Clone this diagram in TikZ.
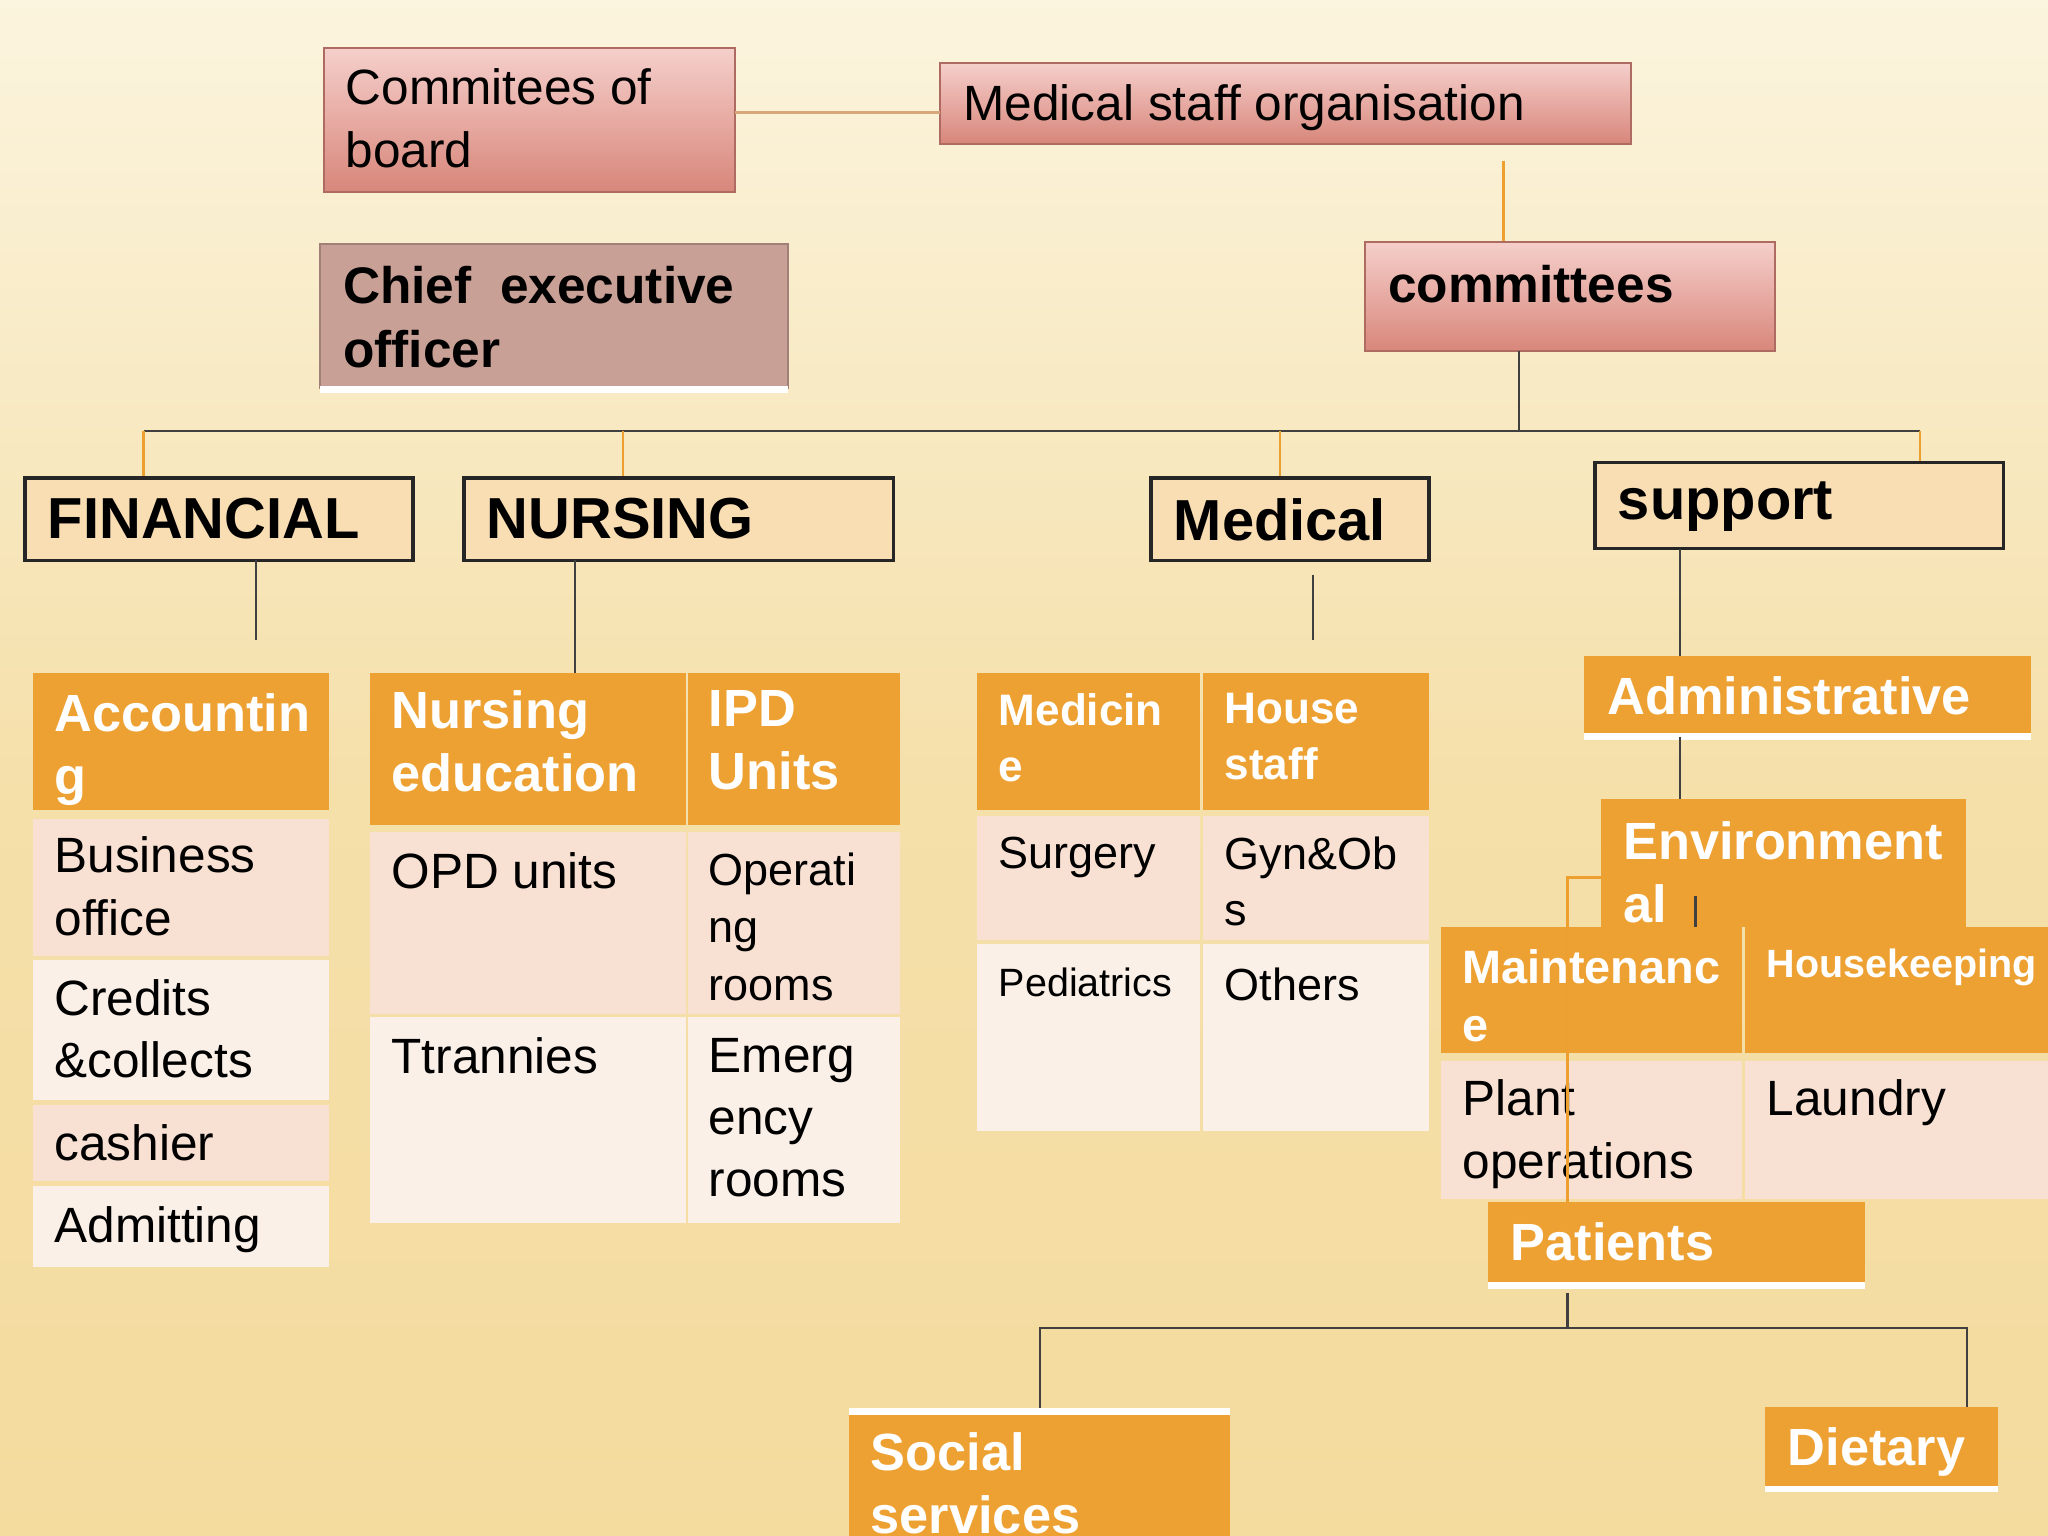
\documentclass[tikz,border=0pt]{standalone}
\usepackage{fontspec}
\setmainfont{Liberation Sans}
\definecolor{bgtop}{HTML}{FBF4DE}
\definecolor{bgmid}{HTML}{F4DB9E}
\definecolor{pinkT}{HTML}{F5CFCB}
\definecolor{pinkB}{HTML}{D8867A}
\definecolor{ceo}{HTML}{C9A096}
\definecolor{hdr}{HTML}{F9DDB3}
\definecolor{org}{HTML}{EEA133}
\definecolor{cpink}{HTML}{F8E1D3}
\definecolor{clight}{HTML}{FBF0E8}
\definecolor{tan}{HTML}{D9A77A}
\definecolor{ol}{HTML}{EDA030}
\tikzset{
 txt/.style={anchor=north west,align=left,inner sep=0pt,font=\fontsize{10.8}{13.6}\selectfont},
 wtxt/.style={txt,text=white,font=\bfseries\fontsize{11.4}{13.8}\selectfont},
 htxt/.style={txt,font=\bfseries\fontsize{11.2}{14}\selectfont},
 bigh/.style={txt,font=\bfseries\fontsize{12.6}{15}\selectfont},
 dk/.style={draw=black!75,line width=0.5pt},
 ot/.style={draw=ol,line width=0.6pt},
}
\newcommand{\cbox}[5]{\path[#1] (#2,#3) rectangle (#4,#5);}
\begin{document}
\begin{tikzpicture}[x=0.1mm,y=-0.1mm]
\useasboundingbox (0,0) rectangle (1568,1176);
\shade[top color=bgtop,bottom color=bgmid,middle color=bgmid!80!bgtop] (0,0) rectangle (1568,1176);
% top boxes
\path[top color=pinkT,bottom color=pinkB,draw=pinkB!80!black] (248,37) rectangle (563,147);
\node[txt] (cb) at (264,52) {Commitees of\\board};
\path[top color=pinkT,bottom color=pinkB,draw=pinkB!80!black] (720,48) rectangle (1249,110);
\node[txt] (ms) at (737,64) {Medical staff organisation};
\draw[tan,line width=0.6pt] (563,86) -- (720,86);
\coordinate (ms1) at (1151,123); \coordinate (cm1) at (1151,185);
\draw[ot] (ms1) -- (cm1);
\path[top color=pinkT,bottom color=pinkB,draw=pinkB!80!black] (1045,185) rectangle (1359,269);
\node[htxt] (cm) at (1062,202) {committees};
\path[fill=ceo,draw=ceo!80!black] (245,187) rectangle (603,297);
\draw[white,line width=1.5pt] (245,298) -- (603,298);
\node[htxt] (ceo) at (262,203) {Chief\ \ executive\\officer};
% main tree
\coordinate (t1) at (1163,269); \coordinate (t2) at (1163,330);
\coordinate (hl) at (110,330); \coordinate (hr) at (1470,330);
\draw[dk] (t1) -- (t2); \draw[dk] (hl) -- (hr);
\foreach \x/\y in {110/366,477/366,980/366,1470/354} \draw[ot] (\x,330) -- (\x,\y);
\tikzset{hb/.style={fill=hdr,draw=black!85,line width=0.8pt}}
\path[hb] (19,366) rectangle (316,429); \node[bigh] (fin) at (36,381) {FINANCIAL};
\path[hb] (355,366) rectangle (684,429); \node[bigh] (nur) at (372,381) {NURSING};
\path[hb] (881,366) rectangle (1094,429); \node[bigh] (med) at (898,381) {Medical};
\path[hb] (1221,354) rectangle (1534,420); \node[bigh] (sup) at (1238,368) {support};
\draw[dk] (196,429) -- (196,490);
\draw[dk] (440,429) -- (440,515);
\draw[dk] (1005,440) -- (1005,490);
\draw[dk] (1286,420) -- (1286,502);
% financial
\cbox{fill=org}{25}{515}{252}{620}
\cbox{fill=cpink}{25}{627}{252}{732}
\cbox{fill=clight}{25}{735}{252}{842}
\cbox{fill=cpink}{25}{846}{252}{904}
\cbox{fill=clight}{25}{908}{252}{970}
\node[wtxt] (acc) at (41,530) {Accountin\\g};
\node[txt] (bo) at (41,640) {Business\\office};
\node[txt] (cr) at (41,749) {Credits\\\&collects};
\node[txt] (ca) at (41,860) {cashier};
\node[txt] (ad) at (41,923) {Admitting};
% nursing
\cbox{fill=org}{283}{515}{525}{632}
\cbox{fill=org}{527}{515}{689}{632}
\cbox{fill=cpink}{283}{637}{525}{776}
\cbox{fill=cpink}{527}{637}{689}{776}
\cbox{fill=clight}{283}{779}{525}{936}
\cbox{fill=clight}{527}{779}{689}{936}
\node[wtxt] (ne) at (299,528) {Nursing\\education};
\node[wtxt] (ipd) at (542,528) {IPD\\Units};
\node[txt] (opd) at (299,652) {OPD units};
\node[txt,font=\fontsize{9.8}{12.6}\selectfont] (op) at (542,652) {Operati\\ng\\rooms};
\node[txt] (tr) at (299,794) {Ttrannies};
\node[txt] (em) at (542,794) {Emerg\\ency\\rooms};
% medical
\cbox{fill=org}{748}{515}{919}{620}
\cbox{fill=org}{921}{515}{1094}{620}
\cbox{fill=cpink}{748}{625}{919}{720}
\cbox{fill=cpink}{921}{625}{1094}{720}
\cbox{fill=clight}{748}{723}{919}{866}
\cbox{fill=clight}{921}{723}{1094}{866}
\node[wtxt,font=\bfseries\fontsize{9.6}{12.3}\selectfont] (mdc) at (764,530) {Medicin\\e};
\node[wtxt,font=\bfseries\fontsize{9.6}{12.3}\selectfont] (hs) at (937,530) {House\\staff};
\node[txt,font=\fontsize{9.8}{12.3}\selectfont] (su) at (764,640) {Surgery};
\node[txt,font=\fontsize{9.8}{12.3}\selectfont] (gy) at (937,640) {Gyn\&Ob\\s};
\node[txt,font=\fontsize{8.6}{11}\selectfont] (pe) at (764,740) {Pediatrics};
\node[txt,font=\fontsize{9.8}{12.3}\selectfont] (ot) at (937,740) {Others};
% support
\cbox{fill=org}{1213}{502}{1555}{562}
\draw[white,line width=1.5pt] (1213,564) -- (1555,564);
\node[wtxt] (adm) at (1230,517) {Administrative};
\draw[dk] (1286,564) -- (1286,612);
\cbox{fill=org}{1226}{612}{1505}{710}
\node[wtxt] (env) at (1242,628) {Environment\\al};
\cbox{fill=org}{1103}{710}{1334}{806}
\cbox{fill=org}{1336}{710}{1568}{806}
\cbox{fill=cpink}{1103}{812}{1334}{918}
\cbox{fill=cpink}{1336}{812}{1568}{918}
\node[wtxt,font=\bfseries\fontsize{10.2}{12.8}\selectfont] (mn) at (1119,726) {Maintenanc\\e};
\node[wtxt,font=\bfseries\fontsize{8.6}{11}\selectfont] (hk) at (1352,726) {Housekeeping};
\node[txt] (pl) at (1119,826) {Plant\\operations};
\node[txt] (la) at (1352,826) {Laundry};
\draw[ot] (1226,672) -- (1200,672) -- (1200,920);
\draw[dk] (1298,686) -- (1298,710);
\cbox{fill=org}{1139}{920}{1428}{982}
\draw[white,line width=1.5pt] (1139,984) -- (1428,984);
\node[wtxt] (pa) at (1156,935) {Patients};
\draw[dk] (1200,990) -- (1200,1017);
\draw[dk] (796,1088) -- (796,1017) -- (1506,1017) -- (1506,1078);
\cbox{fill=org}{650}{1081}{942}{1190}
\draw[white,line width=1.5pt] (650,1081) -- (942,1081);
\node[wtxt] (so) at (666,1096) {Social\\services};
\cbox{fill=org}{1351}{1077}{1530}{1138}
\draw[white,line width=1.5pt] (1351,1140) -- (1530,1140);
\node[wtxt] (di) at (1368,1092) {Dietary};
\end{tikzpicture}
\end{document}
